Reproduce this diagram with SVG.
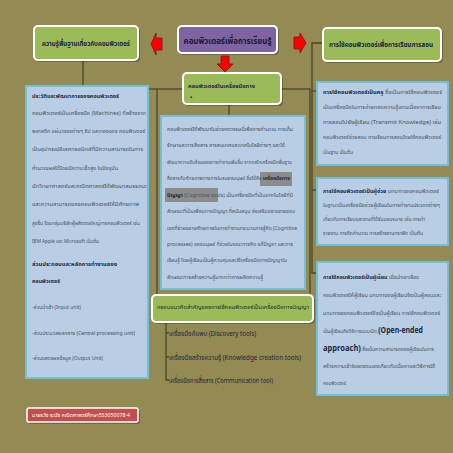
<svg xmlns="http://www.w3.org/2000/svg" width="453" height="453" viewBox="0 0 453 453">
<style>
text{font-family:"Noto Sans Thai","Liberation Sans","Noto Sans",sans-serif;}
.g{fill:#9bbb59;stroke:#fff;stroke-width:2}
.bl{fill:#b9cde5;stroke:#6fc0d8;stroke-width:2}
.sh{fill:#000;opacity:.25}
.t{font-size:5.6px;fill:#46535f}
.tb{font-size:6px;fill:#1c2740;font-weight:bold}
.bb{font-weight:bold;fill:#1c2740}
.hd{font-size:7.4px;fill:#1c2340;font-weight:bold}
.it{font-size:7.8px;fill:#1c2340}
.ln{fill:none;stroke:#4e4526;stroke-width:1.3}
.ar{fill:#ff0000;stroke:#8a1010;stroke-width:.8}
</style>
<rect width="453" height="453" fill="#938a54"/>
<g id="connectors">
<line class="ln" x1="83" y1="60" x2="83" y2="87"/>
<rect class="ln" x="157" y="89" width="153" height="207"/>
<line class="ln" x1="148" y1="89" x2="157" y2="89"/>
<line class="ln" x1="229" y1="104" x2="229" y2="117"/>
<polyline class="ln" points="323,43 312,43 312,273 318,273"/>
<line class="ln" x1="312" y1="91" x2="318" y2="91"/>
<line class="ln" x1="312" y1="190" x2="318" y2="190"/>
<polyline class="ln" points="166,322 166,380 169,380"/>
<line class="ln" x1="166" y1="333" x2="169" y2="333"/>
<line class="ln" x1="166" y1="357" x2="169" y2="357"/>
<polygon class="ar" points="162,38 156,38 156,33 151,44 156,55 156,50 162,50"/>
<polygon class="ar" points="294,37 300,37 300,33 306,43 300,53 300,49 294,49"/>
<polygon class="ar" points="221,56 229,56 229,64 233,64 225,72 217,64 221,64"/>
</g>
<g id="title">
<rect class="sh" x="180" y="28" width="99" height="27" rx="4"/>
<rect x="178" y="26" width="99" height="27" rx="4" fill="#8064a2" stroke="#fff" stroke-width="2"/>
<text x="227.5" y="43.5" text-anchor="middle" font-size="9.5" font-weight="bold" fill="#1a1a3a" textLength="88" lengthAdjust="spacingAndGlyphs">คอมพิวเตอร์เพื่อการเรียนรู้</text>
</g>
<g id="left-header">
<rect class="sh" x="36" y="28" width="104" height="34" rx="4"/>
<rect class="g" x="34" y="26" width="104" height="34" rx="4"/>
<text class="hd" x="42" y="46" textLength="88" lengthAdjust="spacingAndGlyphs">ความรู้พื้นฐานเกี่ยวกับคอมพิวเตอร์</text>
</g>
<g id="right-header">
<rect class="sh" x="325" y="30" width="118" height="33" rx="4"/>
<rect class="g" x="323" y="28" width="118" height="33" rx="4"/>
<text class="hd" x="329" y="47" textLength="104" lengthAdjust="spacingAndGlyphs">การใช้คอมพิวเตอร์เพื่อการเรียนการสอน</text>
</g>
<g id="center-header">
<rect class="sh" x="185" y="75" width="98" height="31" rx="4"/>
<rect class="g" x="183" y="73" width="98" height="31" rx="4"/>
<text class="tb" x="188" y="88" textLength="67" lengthAdjust="spacingAndGlyphs">คอมพิวเตอร์ในเครื่องมือทาง</text>
<text class="tb" x="190" y="99">•</text>
</g>
<g id="left-box">
<rect class="bl" x="26" y="86" width="122" height="292"/>
<text class="tb" x="32" y="97.5" textLength="87" lengthAdjust="spacingAndGlyphs">ประวัติและพัฒนาการของคอมพิวเตอร์</text>
<text class="t" x="32" y="114.5" textLength="114" lengthAdjust="spacingAndGlyphs">คอมพิวเตอร์เป็นเครื่องมือ (Machines) ที่สร้างจาก</text>
<text class="t" x="32" y="132.5" textLength="113" lengthAdjust="spacingAndGlyphs">พลาสติก แผ่นวงจรต่างๆ ชิป และทองแดง คอมพิวเตอร์</text>
<text class="t" x="32" y="150.5" textLength="111" lengthAdjust="spacingAndGlyphs">เป็นอุปกรณ์อิเลคทรอนิกส์ที่มีความสามารถในการ</text>
<text class="t" x="32" y="169.5" textLength="86" lengthAdjust="spacingAndGlyphs">คำนวณผลได้โดยมีความเร็วสูง ในปัจจุบัน</text>
<text class="t" x="32" y="187.5" textLength="115" lengthAdjust="spacingAndGlyphs">นักวิทยาศาสตร์และคณิตศาสตร์ได้พัฒนาสมรรถนะ</text>
<text class="t" x="32" y="205.5" textLength="107" lengthAdjust="spacingAndGlyphs">และความสามารถของคอมพิวเตอร์ให้มีศักยภาพ</text>
<text class="t" x="32" y="224.5" textLength="108" lengthAdjust="spacingAndGlyphs">สูงขึ้น โดยกลุ่มบริษัทผู้ผลิตรายใหญ่ทางคอมพิวเตอร์ เช่น</text>
<text class="t" x="32" y="242.5" textLength="67" lengthAdjust="spacingAndGlyphs">IBM Apple และ Microsoft เป็นต้น</text>
<text class="tb" x="32" y="265.5" textLength="85" lengthAdjust="spacingAndGlyphs">ส่วนประกอบและหลักการทำงานของ</text>
<text class="tb" x="32" y="282.5" textLength="28" lengthAdjust="spacingAndGlyphs">คอมพิวเตอร์</text>
<text class="t" x="32" y="308.5" textLength="49" lengthAdjust="spacingAndGlyphs">-ส่วนนำเข้า (Input unit)</text>
<text class="t" x="32" y="334.5" textLength="103" lengthAdjust="spacingAndGlyphs">-ส่วนประมวลผลกลาง (Central processing unit)</text>
<text class="t" x="32" y="359.5" textLength="71" lengthAdjust="spacingAndGlyphs">-ส่วนแสดงผลข้อมูล (Output Unit)</text>
</g>
<g id="center-box">
<rect class="bl" x="161" y="116" width="144" height="173"/>
<rect x="260" y="172" width="32" height="14" fill="#8c8c8c"/>
<rect x="165" y="188" width="53" height="14" fill="#8c8c8c"/>
<text class="t" x="167" y="130.5" textLength="126" lengthAdjust="spacingAndGlyphs">คอมพิวเตอร์ได้พัฒนาในช่วงศตวรรษนี้เพื่อการคำนวณ การเก็บ</text>
<text class="t" x="167" y="147" textLength="118" lengthAdjust="spacingAndGlyphs">รักษาและการสื่อสาร สารสนเทศและเทคโนโลยีต่างๆ และได้</text>
<text class="t" x="167" y="163.5" textLength="125" lengthAdjust="spacingAndGlyphs">พัฒนาความซับซ้อนของการทำงานเพิ่มขึ้น จากกลไกเครื่องมือพื้นฐาน</text>
<text class="t" x="167" y="180" font-size="5.2" textLength="123" lengthAdjust="spacingAndGlyphs">สื่อสารกับศักยภาพทางการในสมองมนุษย์ ซึ่งได้คือ <tspan class="bb">เครื่องมือทาง</tspan></text>
<text class="t" x="167" y="197" textLength="126" lengthAdjust="spacingAndGlyphs"><tspan class="bb">ปัญญา</tspan> (Cognitive tools) เป็นเครื่องมือที่เป็นเทคโนโลยีที่มี</text>
<text class="t" x="167" y="213" textLength="128" lengthAdjust="spacingAndGlyphs">ลักษณะที่เป็นเพื่อนทางปัญญา ที่สนับสนุน ส่งเสริมและขยายขอบ</text>
<text class="t" x="167" y="229.5" textLength="130" lengthAdjust="spacingAndGlyphs">เขตที่ช่วยขยายศักยภาพในการทำงานกระบวนการรู้คิด (Cognitive</text>
<text class="t" x="167" y="246" textLength="126" lengthAdjust="spacingAndGlyphs">processes) ของมนุษย์ ที่ช่วยในขณะการคิด แก้ปัญหา และการ</text>
<text class="t" x="167" y="262" textLength="120" lengthAdjust="spacingAndGlyphs">เรียนรู้ โดยผู้เรียนเป็นผู้ควบคุมและใช้เครื่องมือทางปัญญาใน</text>
<text class="t" x="167" y="278.5" textLength="96" lengthAdjust="spacingAndGlyphs">ลักษณะการสร้างความรู้มากกว่าการผลิตความรู้</text>
</g>
<g id="concept-header">
<rect class="sh" x="154" y="297" width="161" height="27" rx="4"/>
<rect class="g" x="152" y="295" width="161" height="27" rx="4"/>
<text x="157" y="308.5" font-size="5.8" fill="#1c2340" textLength="152" lengthAdjust="spacingAndGlyphs">กรอบแนวคิดสำคัญของการใช้คอมพิวเตอร์เป็นเครื่องมือทางปัญญา</text>
</g>
<g id="tool-discovery"><text class="it" x="169" y="336" textLength="87" lengthAdjust="spacingAndGlyphs">เครื่องมือค้นพบ (Discovery tools)</text></g>
<g id="tool-knowledge"><text class="it" x="169" y="360" textLength="132" lengthAdjust="spacingAndGlyphs">เครื่องมือสร้างความรู้ (Knowledge creation tools)</text></g>
<g id="tool-communication"><text class="it" x="169" y="383" textLength="104" lengthAdjust="spacingAndGlyphs">เครื่องมือการสื่อสาร (Communication tool)</text></g>
<g id="teacher-box">
<rect class="bl" x="317" y="82" width="131" height="83"/>
<text class="t" x="323" y="93.5" textLength="119" lengthAdjust="spacingAndGlyphs"><tspan class="bb">การใช้คอมพิวเตอร์เป็นครู</tspan> ซึ่งเป็นการใช้คอมพิวเตอร์</text>
<text class="t" x="323" y="108.5" textLength="118" lengthAdjust="spacingAndGlyphs">เป็นเครื่องมือในการถ่ายทอดความรู้แทนเนื้อหาการเรียน</text>
<text class="t" x="323" y="123.5" textLength="118" lengthAdjust="spacingAndGlyphs">การสอนไปยังผู้เรียน (Transmit Knowledge) เช่น</text>
<text class="t" x="323" y="138.5" textLength="118" lengthAdjust="spacingAndGlyphs">คอมพิวเตอร์ช่วยสอน การเรียนการสอนโดยใช้คอมพิวเตอร์</text>
<text class="t" x="323" y="153.5" textLength="30" lengthAdjust="spacingAndGlyphs">เป็นฐาน เป็นต้น</text>
</g>
<g id="assistant-box">
<rect class="bl" x="317" y="178" width="131" height="67"/>
<text class="t" x="323" y="192.5" textLength="116" lengthAdjust="spacingAndGlyphs"><tspan class="bb">การใช้คอมพิวเตอร์เป็นผู้ช่วย</tspan> บทบาทของคอมพิวเตอร์</text>
<text class="t" x="323" y="206.5" textLength="117" lengthAdjust="spacingAndGlyphs">ในฐานะเป็นเครื่องมือช่วยผู้เรียนในการทำงานประเภทต่างๆ</text>
<text class="t" x="323" y="220.5" textLength="102" lengthAdjust="spacingAndGlyphs">เกี่ยวกับการเรียนและงานที่ได้รับมอบหมาย เช่น การทำ</text>
<text class="t" x="323" y="234.5" textLength="100" lengthAdjust="spacingAndGlyphs">รายงาน การคิดคำนวณ การสร้างงานกราฟิก เป็นต้น</text>
</g>
<g id="learner-box">
<rect class="bl" x="317" y="262" width="131" height="133"/>
<text class="t" x="323" y="278.5" textLength="96" lengthAdjust="spacingAndGlyphs"><tspan class="bb">การใช้คอมพิวเตอร์เป็นผู้เรียน</tspan> เมื่อนำเอาเรื่อง</text>
<text class="t" x="323" y="296.5" textLength="118" lengthAdjust="spacingAndGlyphs">คอมพิวเตอร์ให้ผู้เรียน บทบาทของผู้เรียนจึงเป็นผู้สอนและ</text>
<text class="t" x="323" y="314.5" textLength="117" lengthAdjust="spacingAndGlyphs">บทบาทของคอมพิวเตอร์จึงเป็นผู้เรียน การใช้คอมพิวเตอร์</text>
<text class="t" x="323" y="333" font-size="5.2" textLength="100" lengthAdjust="spacingAndGlyphs">เป็นผู้เรียนคือวิธีการแบบเปิด <tspan class="bb" font-size="8">(Open-ended</tspan></text>
<text class="t" x="323" y="351" textLength="111" lengthAdjust="spacingAndGlyphs"><tspan class="bb" font-size="8.5">approach)</tspan> ซึ่งเน้นความสามารถของผู้เรียนในการ</text>
<text class="t" x="323" y="367.5" textLength="112" lengthAdjust="spacingAndGlyphs">สร้างความเข้าใจของตนเองเกี่ยวกับเนื้อหาและวิธีการใช้</text>
<text class="t" x="323" y="384.5" textLength="23" lengthAdjust="spacingAndGlyphs">คอมพิวเตอร์</text>
</g>
<g id="author">
<rect class="sh" x="29" y="410" width="111" height="14" rx="2"/>
<rect x="27" y="408" width="111" height="14" rx="2" fill="#c0504d" stroke="#fff" stroke-width="1.5"/>
<text x="32" y="417" font-size="5" fill="#fff" textLength="98" lengthAdjust="spacingAndGlyphs">นายธวัช ระบัง คณิตศาสตร์ศึกษา553050078-4</text>
</g>
</svg>
